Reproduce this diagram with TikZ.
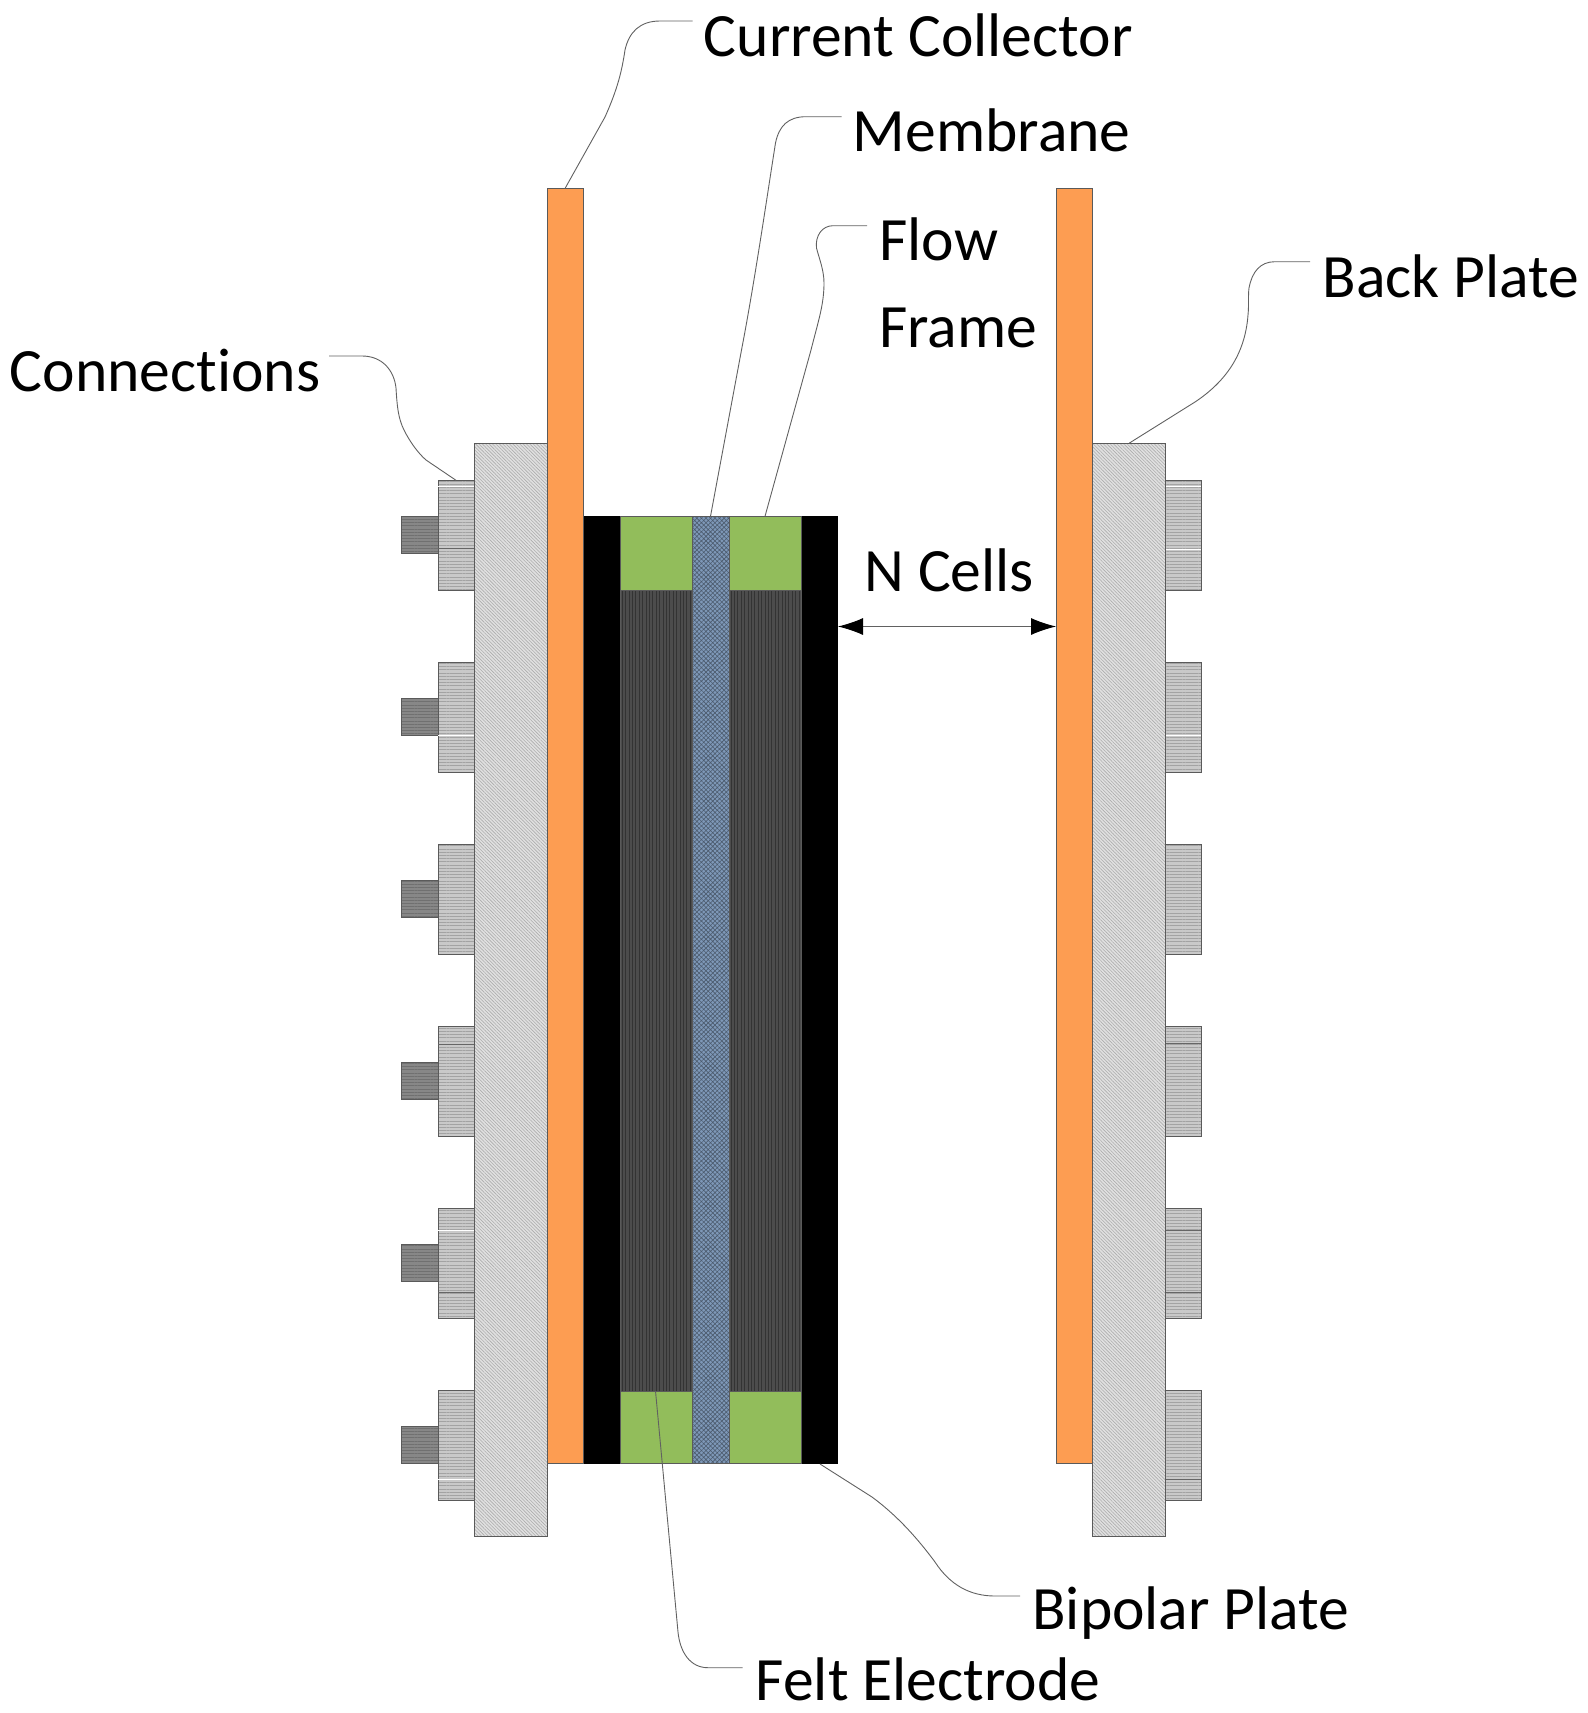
\documentclass[tikz,border=0pt]{standalone}
\usepackage{fontspec}
\setmainfont{Carlito}[Ligatures=NoCommon]
\usetikzlibrary{arrows.meta,patterns.meta}
\definecolor{copper}{HTML}{FD9D52}
\definecolor{frameg}{HTML}{92BD5B}
\definecolor{membr}{HTML}{7E98B8}
\definecolor{edge}{HTML}{5A5A5A}
\tikzset{
  outline/.style={draw=edge,line width=0.45pt},
  collector/.style={outline,fill=copper},
  flowframe/.style={outline,fill=frameg},
  bipolar/.style={fill=black},
  backplate/.style={outline,preaction={fill=black!12},
    pattern={Lines[angle=-45,distance=1.2pt,line width=0.3pt]},pattern color=black!32},
  nut/.style={outline,preaction={fill=black!21},
    pattern={Lines[angle=0,distance=1.6pt,line width=0.4pt]},pattern color=black!36},
  bolt/.style={outline,preaction={fill=black!47},
    pattern={Lines[angle=0,distance=1.6pt,line width=0.4pt]},pattern color=black!56},
  felt/.style={outline,preaction={fill=black!70},
    pattern={Lines[angle=90,distance=1.7pt,line width=0.5pt]},pattern color=black!80},
  membrane/.style={outline,preaction={fill=membr},
    pattern={Hatch[angle=45,distance=1.6pt,line width=0.3pt]},pattern color=black!40!membr},
  seamlight/.style={draw=white,line width=0.5pt},
  seamdark/.style={draw=black!60,line width=0.45pt},
  leader/.style={draw=black!62,line width=0.45pt},
  label/.style={anchor=base west,inner sep=0pt,font=\fontsize{30.8}{36}\selectfont},
}
\begin{document}
\begin{tikzpicture}[x=0.5pt,y=-0.5pt]
\useasboundingbox (0,0) rectangle (1588,1713);

% left stack
\foreach \i in {0,...,5}{
  \draw[bolt] (401.5,516.3+182*\i) rectangle (438,553.5+182*\i);
  \draw[nut] (438,480.3+182*\i) rectangle (474.5,590+182*\i);
}
\foreach \y in {486.7,735,1230.7,1479}{
  \draw[seamlight] (438.3,\y) -- (474.2,\y);
}
\foreach \y in {548.5,1044.3,1292.7}{
  \draw[seamdark] (438.3,\y) -- (474.2,\y);
}
\draw[backplate] (474.5,443.3) rectangle (547,1536.7);
\draw[collector] (547,188.5) rectangle (583.5,1463.5);

% cell
\fill[bipolar] (583.5,516.3) rectangle (838,1463.5);
\draw[felt] (620,590) rectangle (692.5,1391);
\draw[felt] (729,590) rectangle (801,1391);
\draw[flowframe] (620,516.3) rectangle (692.5,590);
\draw[flowframe] (729,516.3) rectangle (801,590);
\draw[flowframe] (620,1391) rectangle (692.5,1463.5);
\draw[flowframe] (729,1391) rectangle (801,1463.5);
\draw[membrane] (692.5,516.3) rectangle (729,1463.5);

% right stack
\foreach \i in {0,...,5}{
  \draw[nut] (1165,480.3+182*\i) rectangle (1201.5,590+182*\i);
}
\foreach \y in {486.7,549,735}{
  \draw[seamlight] (1165.3,\y) -- (1201.2,\y);
}
\foreach \y in {1043.6,1230.6,1292.3,1479}{
  \draw[seamdark] (1165.3,\y) -- (1201.2,\y);
}
\draw[backplate] (1092.5,443.3) rectangle (1165,1536.7);
\draw[collector] (1056,188.5) rectangle (1092.5,1463.5);

% labels
\node[label] (cc) at (703.5,56.5) {Current Collector};
\node[label] (mem) at (852.5,151.5) {Membrane};
\node[label] (fl) at (879,260.5) {Flow};
\node[label] (fr) at (879,347) {Frame};
\node[label] (bp) at (1322.5,297.5) {Back Plate};
\node[label] (con) at (9.5,391.5) {Connections};
\node[label] (nc) at (864,591) {N Cells};
\node[label] (bip) at (1032,1629.5) {Bipolar Plate};
\node[label] (fe) at (755.5,1700) {Felt Electrode};

% leader ends
\coordinate (ccTop) at (565,188.5);
\coordinate (ccEnd) at (692.5,21);
\coordinate (memTop) at (710.5,516.3);
\coordinate (memEnd) at (841.5,116.7);
\coordinate (ffTop) at (765,516.3);
\coordinate (ffEnd) at (867,225.7);
\coordinate (bpTop) at (1129,443.3);
\coordinate (bpEnd) at (1310,261.7);
\coordinate (nutTop) at (456,480.3);
\coordinate (conEnd) at (329,356);
\coordinate (feltTop) at (655.5,1391);
\coordinate (feltEnd) at (742.5,1667.7);
\coordinate (bipTop) at (820,1464);
\coordinate (bipEnd) at (1020,1596);
\coordinate (cellR) at (838,626.5);
\coordinate (collL) at (1056,626.5);

\draw[leader] (ccTop) -- (605,117) .. controls (618,88) and (622,70) .. (625,50)
  .. controls (629,32) and (640,21) .. (660,21) -- (ccEnd);
\draw[leader] (memTop) -- (741.5,350) .. controls (755,280) and (768,190) .. (775.5,143)
  .. controls (779,126) and (788,116.7) .. (806,116.7) -- (memEnd);
\draw[leader] (ffTop) -- (811,350) .. controls (818,322) and (824,305) .. (824,283)
  .. controls (824,270) and (819,258) .. (816.5,248)
  .. controls (815,236) and (822,225.7) .. (833,225.7) -- (ffEnd);
\draw[leader] (bpTop) -- (1195,402) .. controls (1225,382) and (1245,355) .. (1248,315)
  .. controls (1249,305) and (1248,295) .. (1249,288)
  .. controls (1252,272) and (1260,261.7) .. (1275,261.7) -- (bpEnd);
\draw[leader] (conEnd) -- (362,356) .. controls (382,356) and (394,370) .. (396,388)
  .. controls (397,405) and (398,418) .. (404,430)
  .. controls (410,442) and (418,453) .. (426,460) -- (nutTop);
\draw[leader] (feltTop) -- (678,1632) .. controls (680,1652) and (690,1667.7) .. (708,1667.7) -- (feltEnd);
\draw[leader] (bipTop) -- (872,1497) .. controls (895,1514) and (915,1535) .. (935,1562)
  .. controls (950,1585) and (970,1596) .. (995,1596) -- (bipEnd);
\draw[leader,{Latex[length=12.5pt,width=8.5pt,black]}-{Latex[length=12.5pt,width=8.5pt,black]}] (cellR) -- (collL);
\end{tikzpicture}
\end{document}
